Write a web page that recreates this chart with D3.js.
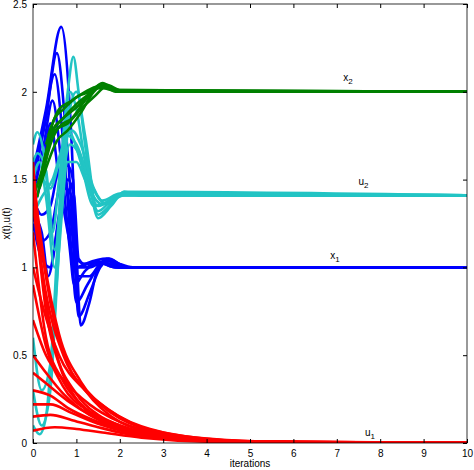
<!DOCTYPE html>
<html><head><meta charset="utf-8">
<script src="https://cdn.jsdelivr.net/npm/d3@7"></script>
<style>body{margin:0;background:#fff}</style>
</head><body>
<svg id="chart"></svg>
<script>
// curves, [t, value]
const u1 = [
  [[0,1.6],[0.2,1.0],[0.5,0.55],[1,0.28],[1.5,0.16],[2,0.1],[3,0.04],[4,0.015],[6,0.003],[10,0]],
  [[0,1.45],[0.3,0.75],[0.6,0.45],[1,0.25],[2,0.08],[3,0.03],[5,0.005],[10,0]],
  [[0,1.2],[0.3,0.6],[0.7,0.35],[1.2,0.2],[2,0.09],[3,0.035],[5,0.006],[10,0]],
  [[0,0.9],[0.3,0.55],[0.7,0.32],[1.3,0.18],[2,0.1],[3,0.04],[5,0.007],[10,0]],
  [[0,0.5],[0.3,0.4],[0.7,0.28],[1.3,0.16],[2,0.09],[3,0.04],[5,0.006],[10,0]],
  [[0,0.3],[0.4,0.27],[0.8,0.2],[1.4,0.13],[2,0.08],[3,0.03],[5,0.005],[10,0]],
  [[0,0.15],[0.4,0.16],[0.9,0.13],[1.5,0.09],[2.2,0.05],[3,0.025],[5,0.004],[10,0]],
  [[0,0.07],[0.5,0.09],[1,0.08],[1.6,0.06],[2.5,0.03],[4,0.008],[10,0]],
  [[0,1.55],[0.15,1.2],[0.4,0.8],[0.8,0.45],[1.3,0.28],[2,0.15],[3,0.06],[4,0.025],[6,0.004],[10,0]],
  [[0,1.0],[0.2,0.8],[0.6,0.5],[1.2,0.3],[2,0.14],[3,0.06],[5,0.01],[10,0]],
  [[0,0.7],[0.3,0.5],[0.7,0.36],[1.3,0.22],[2,0.12],[3,0.05],[5,0.008],[10,0]],
  [[0,1.5],[0.25,1.05],[0.6,0.62],[1.1,0.35],[1.8,0.18],[2.6,0.08],[4,0.02],[6,0.004],[10,0]],
  [[0,1.35],[0.3,0.85],[0.7,0.5],[1.2,0.3],[2,0.12],[3,0.05],[5,0.008],[10,0]],
  [[0,0.22],[0.4,0.22],[0.9,0.17],[1.5,0.11],[2.2,0.06],[3,0.03],[5,0.005],[10,0]],
  [[0,0.4],[0.3,0.34],[0.8,0.24],[1.4,0.15],[2.1,0.08],[3,0.035],[5,0.006],[10,0]]
];
const x1 = [
  [[0,1.55],[0.3,1.9],[0.65,2.37],[0.85,1.9],[1.0,1.1],[1.1,0.67],[1.3,0.8],[1.5,1.0],[1.75,1.05],[2.0,1.02],[2.3,1.0],[10,1.0]],
  [[0,1.5],[0.3,1.85],[0.55,2.22],[0.75,1.8],[0.95,1.1],[1.05,0.72],[1.3,0.85],[1.55,1.0],[1.75,1.04],[2.1,1.0],[10,1]],
  [[0,1.45],[0.25,1.8],[0.5,2.1],[0.7,1.7],[0.9,1.05],[1.0,0.8],[1.25,0.9],[1.5,1.0],[1.7,1.04],[2.0,1.0],[10,1]],
  [[0,1.4],[0.25,1.7],[0.45,1.95],[0.65,1.6],[0.85,1.1],[0.95,0.9],[1.2,0.98],[1.5,1.03],[1.9,1.0],[10,1]],
  [[0,1.35],[0.2,1.5],[0.4,1.82],[0.6,1.5],[0.8,1.2],[1.0,1.0],[1.2,1.0],[1.5,1.03],[1.9,1.0],[10,1]],
  [[0,1.3],[0.2,1.2],[0.35,0.95],[0.55,1.2],[0.75,1.45],[0.9,1.4],[1.0,1.05],[1.2,1.02],[1.6,1.03],[2,1],[10,1]],
  [[0,1.25],[0.2,1.05],[0.4,1.0],[0.6,1.3],[0.8,1.5],[0.95,1.4],[1.05,1.05],[1.3,1.0],[1.7,1.04],[2.1,1],[10,1]],
  [[0,1.3],[0.2,1.15],[0.4,1.2],[0.6,1.45],[0.8,1.58],[0.92,1.5],[1.0,1.0],[1.2,1.02],[1.7,1.05],[2.2,1],[10,1]],
  [[0,1.4],[0.2,1.3],[0.4,1.35],[0.6,1.55],[0.75,1.5],[0.9,1.2],[1.0,0.95],[1.3,0.95],[1.6,1.03],[2.0,1.0],[10,1]]
];
const u2 = [
  [[0,1.7],[0.1,1.77],[0.25,1.65],[0.45,1.2],[0.6,1.5],[0.8,2.0],[0.93,2.2],[1.05,2.0],[1.2,1.7],[1.5,1.28],[1.8,1.35],[2.1,1.43],[2.5,1.41],[10,1.41]],
  [[0,1.6],[0.1,1.65],[0.3,1.55],[0.5,1.1],[0.7,1.6],[0.85,2.0],[1.0,1.9],[1.2,1.6],[1.5,1.32],[1.8,1.38],[2.1,1.42],[2.5,1.41],[10,1.41]],
  [[0,0.1],[0.15,0.05],[0.3,0.15],[0.45,0.6],[0.6,1.3],[0.75,1.8],[0.9,1.75],[1.1,1.6],[1.4,1.35],[1.8,1.38],[2.2,1.42],[10,1.41]],
  [[0,0.3],[0.2,0.1],[0.4,0.3],[0.55,0.9],[0.7,1.5],[0.85,1.7],[1.05,1.65],[1.3,1.45],[1.6,1.36],[2.0,1.41],[10,1.41]],
  [[0,1.4],[0.2,1.5],[0.4,1.45],[0.6,1.6],[0.8,1.75],[1.0,1.7],[1.3,1.5],[1.6,1.38],[2.0,1.42],[10,1.41]],
  [[0,1.5],[0.15,1.6],[0.3,1.4],[0.5,1.0],[0.65,1.3],[0.85,1.9],[1.0,2.0],[1.2,1.75],[1.5,1.3],[1.8,1.36],[2.1,1.43],[10,1.41]],
  [[0,0.6],[0.2,0.3],[0.4,0.45],[0.6,1.1],[0.8,1.6],[1.0,1.6],[1.2,1.5],[1.5,1.35],[2.0,1.41],[10,1.41]],
  [[0,1.3],[0.2,1.4],[0.45,1.5],[0.7,1.7],[0.9,1.78],[1.1,1.7],[1.4,1.45],[1.7,1.36],[2.1,1.42],[10,1.41]]
];
const x2 = [
  [[0,1.4],[0.2,1.55],[0.4,1.75],[0.7,1.85],[1.0,1.93],[1.3,1.99],[1.6,2.05],[1.9,2.01],[2.2,2.0],[10,2]],
  [[0.1,1.4],[0.3,1.65],[0.5,1.78],[0.8,1.82],[1.1,1.9],[1.4,1.97],[1.7,2.03],[2.0,2.0],[10,2]],
  [[0.2,1.5],[0.4,1.7],[0.6,1.8],[0.9,1.85],[1.2,1.95],[1.5,2.02],[1.8,2.02],[2.1,2.0],[10,2]],
  [[0.3,1.7],[0.5,1.85],[0.7,1.9],[1.0,1.97],[1.3,2.0],[1.6,2.04],[1.9,2.0],[10,2]],
  [[0.35,1.75],[0.6,1.9],[0.9,1.95],[1.2,2.0],[1.5,2.03],[1.8,2.01],[2.2,2.0],[10,2]],
  [[0.15,1.45],[0.35,1.6],[0.55,1.72],[0.8,1.78],[1.1,1.88],[1.4,2.0],[1.7,2.04],[2.0,2.01],[10,2]],
  [[0.25,1.6],[0.45,1.78],[0.65,1.84],[0.95,1.9],[1.25,1.97],[1.55,2.04],[1.85,2.01],[10,2]]
];
const labels = [
  {name: "x", sub: "2", t: 7.15, v: 2.06},
  {name: "u", sub: "2", t: 7.5, v: 1.47},
  {name: "x", sub: "1", t: 6.85, v: 1.05},
  {name: "u", sub: "1", t: 7.65, v: 0.04}
];
const xTicks = d3.range(0, 11);
const yTicks = [0, 0.5, 1, 1.5, 2, 2.5];

const W = 474, H = 470;
const m = {left: 33, right: 7, top: 4, bottom: 27};
const svg = d3.select("#chart").attr("width", W).attr("height", H);

const x = d3.scaleLinear().domain([0, 10]).range([m.left, W - m.right]);
const y = d3.scaleLinear().domain([0, 2.5]).range([H - m.bottom, m.top]);

const line = d3.line().x(d => x(d[0])).y(d => y(d[1])).curve(d3.curveMonotoneX);

svg.append("defs").append("clipPath").attr("id", "clip")
  .append("rect").attr("x", m.left).attr("y", m.top)
  .attr("width", W - m.left - m.right).attr("height", H - m.top - m.bottom);

const plot = svg.append("g").attr("clip-path", "url(#clip)");
[[x1, "#0000ff"], [u2, "#22c4c4"], [x2, "#008000"], [u1, "#ff0000"]].forEach(([set, col]) => {
  plot.selectAll(null).data(set).enter().append("path")
    .attr("d", line).attr("fill", "none")
    .attr("stroke", col).attr("stroke-width", 2.6);
});

// frame and inward ticks
svg.append("rect").attr("x", m.left).attr("y", m.top)
  .attr("width", W - m.left - m.right).attr("height", H - m.top - m.bottom)
  .attr("fill", "none").attr("stroke", "#000").attr("stroke-width", 0.8);

const font = "Liberation Sans, Arial, sans-serif";
const bx = svg.append("g").attr("transform", `translate(0,${H - m.bottom})`)
  .call(d3.axisBottom(x).tickValues(xTicks).tickSize(-4).tickSizeOuter(0).tickPadding(7).tickFormat(d3.format("d")));
const tx = svg.append("g").attr("transform", `translate(0,${m.top})`)
  .call(d3.axisTop(x).tickValues(xTicks).tickSize(-4).tickSizeOuter(0).tickFormat(""));
const ly = svg.append("g").attr("transform", `translate(${m.left},0)`)
  .call(d3.axisLeft(y).tickValues(yTicks).tickSize(-4).tickSizeOuter(0).tickPadding(6).tickFormat(d => d));
const ry = svg.append("g").attr("transform", `translate(${W - m.right},0)`)
  .call(d3.axisRight(y).tickValues(yTicks).tickSize(-4).tickSizeOuter(0).tickFormat(""));
[bx, tx, ly, ry].forEach(g => {
  g.select(".domain").remove();
  g.selectAll("text").style("font-family", font).style("font-size", "10px");
});

svg.append("text").attr("x", x(5)).attr("y", H - 3).attr("text-anchor", "middle")
  .style("font-family", font).style("font-size", "10px").text("iterations");
svg.append("text").attr("transform", `translate(10,${y(1.25)}) rotate(-90)`)
  .attr("text-anchor", "middle").style("font-family", font).style("font-size", "10px")
  .text("x(t),u(t)");

const lab = svg.selectAll(null).data(labels).enter().append("text")
  .attr("x", d => x(d.t)).attr("y", d => y(d.v))
  .style("font-family", font).style("font-size", "10px");
lab.append("tspan").text(d => d.name);
lab.append("tspan").attr("dy", 3).style("font-size", "8px").text(d => d.sub);
</script>
</body></html>
